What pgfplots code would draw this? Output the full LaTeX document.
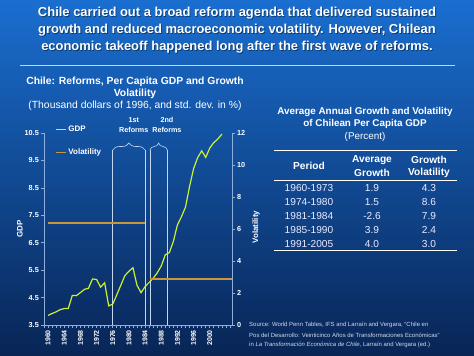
\documentclass[border=0pt]{standalone}
\usepackage{pgfplots}
\pgfplotsset{compat=1.18}
\usepackage{fontspec}
\setmainfont{Liberation Sans}
\usetikzlibrary{decorations.pathreplacing}
\definecolor{bgtop}{HTML}{1A6ED0}
\definecolor{bgmid}{HTML}{0F4A9E}
\definecolor{bgbot}{HTML}{082556}
\definecolor{gdpc}{HTML}{CCF033}
\definecolor{volc}{HTML}{C8963C}
\definecolor{axc}{HTML}{8FAEDD}
\definecolor{refc}{HTML}{C4D6F0}
\definecolor{srcc}{HTML}{D0DAEA}
\definecolor{linec}{HTML}{C0D8F2}
\begin{document}
\begin{tikzpicture}[x=1bp,y=1bp]
\shade[top color=bgtop, middle color=bgmid, bottom color=bgbot] (0,0) rectangle (474,355);
\draw[linec, line width=1.3bp] (20,289.5) -- (455,289.5);
% main title
\foreach \yy/\tt in {342/{Chile carried out a broad reform agenda that delivered sustained},
                     325/{growth and reduced macroeconomic volatility. However, Chilean},
                     308/{economic takeoff happened long after the first wave of reforms.}}{
  \node[text=black, opacity=0.45, font=\bfseries\fontsize{13}{15}\selectfont] at (237.8,\yy-0.8) {\tt};
  \node[text=white, font=\bfseries\fontsize{13}{15}\selectfont] at (237,\yy) {\tt};
}
% chart title
\node[text=white, font=\bfseries\fontsize{10.4}{12}\selectfont] at (135,273) {Chile: Reforms, Per Capita GDP and Growth};
\node[text=white, font=\bfseries\fontsize{10.4}{12}\selectfont] at (135,261) {Volatility};
\node[text=white, font=\fontsize{10.4}{12}\selectfont] at (135,249) {(Thousand dollars of 1996, and std. dev. in \%)};
% table title
\node[text=white, font=\bfseries\fontsize{9.9}{12}\selectfont] at (365,243) {Average Annual Growth and Volatility};
\node[text=white, font=\bfseries\fontsize{9.9}{12}\selectfont] at (365,231) {of Chilean Per Capita GDP};
\node[text=white, font=\fontsize{9.9}{12}\selectfont] at (365,218) {(Percent)};
% table
\draw[white, line width=1.3bp] (274,204.3) -- (457,204.3);
\draw[white, line width=0.9bp] (274,175) -- (457,175);
\draw[white, line width=1.5bp] (274,104.3) -- (457,104.3);
\begin{scope}[every node/.style={text=white, font=\bfseries\fontsize{10.2}{12}\selectfont}]
\node at (309,189) {Period};
\node at (372,195) {Average};
\node at (372,182) {Growth};
\node at (429,195) {Growth};
\node at (429,182) {Volatility};
\end{scope}
\begin{scope}[every node/.style={text=white!92!blue, font=\fontsize{10.2}{12}\selectfont}]
\foreach \yy/\p/\g/\v in {167.3/1960-1973/1.9/4.3, 153.3/1974-1980/1.5/8.6, 139.3/1981-1984/-2.6/7.9, 125.3/1985-1990/3.9/2.4, 111.3/1991-2005/4.0/3.0}{
  \node at (309,\yy) {\p};
  \node at (372,\yy) {\g};
  \node at (429,\yy) {\v};
}
\end{scope}
% source
\begin{scope}[every node/.style={text=srcc, anchor=west, font=\fontsize{6}{7}\selectfont, inner sep=0pt}]
\node at (249,30) {Source: World Penn Tables, IFS and Larraín and Vergara, “Chile en};
\node at (249,20) {Pos del Desarrollo: Veinticinco Años de Transformaciones Económicas”};
\node at (249,10) {in \textit{La Transformación Económica de Chile}, Larraín and Vergara (ed.)};
\end{scope}
% ---------------- GDP axis
\begin{axis}[
  at={(44bp,30bp)}, anchor=south west,
  width=188bp, height=192bp, scale only axis,
  xmin=1959, xmax=2005.5, ymin=3.5, ymax=10.5,
  axis x line*=bottom, axis y line*=left,
  axis line style={axc, line width=0.8bp, -},
  xtick={1960,1964,...,2000},
  xticklabels={1960,1964,1968,1972,1976,1980,1984,1988,1992,1996,2000},
  minor xtick={1959,1960,...,2005},
  ytick={3.5,4.5,...,10.5},
  yticklabels={3.5,4.5,5.5,6.5,7.5,8.5,9.5,10.5},
  tick align=outside,
  major tick length=3bp, minor tick length=2.5bp,
  tick style={axc, line width=0.7bp},
  /pgf/number format/assume math mode=true,
  xticklabel style={rotate=90, anchor=east, text=white, font=\bfseries\fontsize{7}{8}\selectfont, inner sep=2pt},
  yticklabel style={text=white, font=\bfseries\fontsize{7.3}{8}\selectfont, inner sep=2pt},
  ylabel={GDP},
  ylabel style={text=white, font=\bfseries\fontsize{8}{9}\selectfont, at={(axis description cs:-0.128,0.5)}, anchor=center},
  clip=false,
]
\addplot[refc, line width=0.6bp] coordinates {(1976,3.5) (1976,9.88)};
\addplot[refc, line width=0.6bp] coordinates {(1984,3.5) (1984,9.88)};
\addplot[refc, line width=0.6bp] coordinates {(1985.2,3.5) (1985.2,9.88)};
\addplot[refc, line width=0.6bp] coordinates {(1989.5,3.5) (1989.5,9.88)};
\draw[refc, line width=0.6bp, decorate, decoration={brace, amplitude=7bp}] (axis cs:1976,9.88) -- (axis cs:1984,9.88);
\draw[refc, line width=0.6bp, decorate, decoration={brace, amplitude=7bp}] (axis cs:1985.2,9.88) -- (axis cs:1989.5,9.88);
\node[text=white, align=center, font=\bfseries\fontsize{7.2}{9.5}\selectfont] at (axis cs:1981.2,10.79) {1st\\Reforms};
\node[text=white, align=center, font=\bfseries\fontsize{7.2}{9.5}\selectfont] at (axis cs:1989.4,10.79) {2nd\\Reforms};
\addplot[gdpc, line width=1.2bp] coordinates {
(1960,3.85) (1961,3.92) (1962,3.98) (1963,4.06) (1964,4.10) (1965,4.10)
(1966,4.58) (1967,4.57) (1968,4.68) (1969,4.80) (1970,4.84) (1971,5.18)
(1972,5.16) (1973,4.88) (1974,5.04) (1975,4.20) (1976,4.26) (1977,4.60)
(1978,4.95) (1979,5.30) (1980,5.46) (1981,5.59) (1982,4.95) (1983,4.68)
(1984,4.90) (1985,5.05) (1986,5.20) (1987,5.40) (1988,5.65) (1989,6.06)
(1990,6.14) (1991,6.55) (1992,7.15) (1993,7.45) (1994,7.80) (1995,8.55)
(1996,9.20) (1997,9.60) (1998,9.85) (1999,9.61) (2000,9.95) (2001,10.15)
(2002,10.28) (2003,10.46)};
\end{axis}
% ---------------- Volatility axis
\begin{axis}[
  at={(44bp,30bp)}, anchor=south west,
  width=188bp, height=192bp, scale only axis,
  xmin=1959, xmax=2005.5, ymin=0, ymax=12,
  axis x line=none, axis y line*=right,
  axis line style={axc, line width=0.8bp, -},
  ytick={0,2,...,12},
  yticklabels={0,2,4,6,8,10,12},
  tick align=outside, major tick length=3bp,
  tick style={axc, line width=0.7bp},
  /pgf/number format/assume math mode=true,
  yticklabel style={text=white, font=\bfseries\fontsize{7.3}{8}\selectfont, inner sep=2pt},
  clip=false,
  legend style={draw=none, fill=none, at={(axis description cs:0.06,1.045)}, anchor=north west,
    text=white, font=\bfseries\fontsize{8}{9}\selectfont, row sep=13bp, inner sep=0pt,
    nodes={inner sep=1.5pt}},
  legend image code/.code={\draw[#1, line width=1.5bp] (0bp,0bp) -- (10bp,0bp);},
  legend cell align=left,
]
\node[rotate=90, text=white, font=\bfseries\fontsize{8}{9}\selectfont] at (axis description cs:1.128,0.51) {Volatility};
\addlegendimage{gdpc}
\addlegendentry{GDP}
\addplot[volc, line width=1.5bp] coordinates {(1960,6.37) (1984,6.37)};
\addlegendentry{Volatility}
\addplot[volc, line width=1.5bp, forget plot] coordinates {(1985.2,2.86) (2005.5,2.86)};
\end{axis}
\end{tikzpicture}
\end{document}
